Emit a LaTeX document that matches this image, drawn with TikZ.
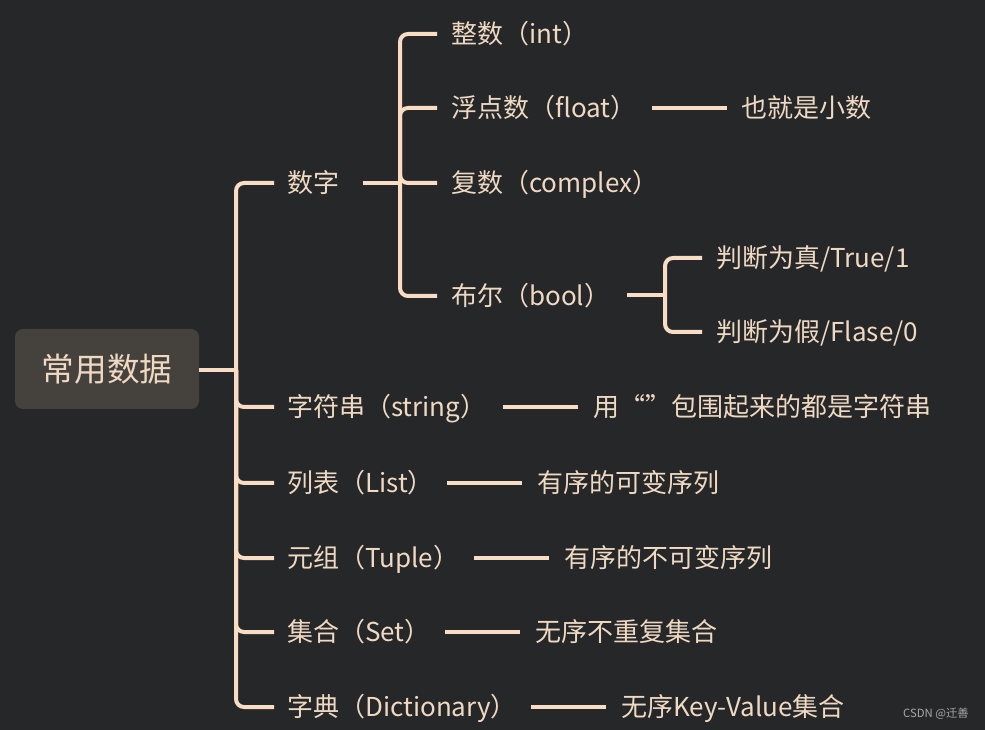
\documentclass[tikz,border=0pt]{standalone}
\usepackage{fontspec}
\setmainfont{Noto Sans CJK SC}
\newfontfamily\wmfont{Noto Sans CJK SC}
\definecolor{bg}{HTML}{262729}
\definecolor{ln}{HTML}{F8DCC4}
\definecolor{tx}{HTML}{EFD9C2}
\definecolor{rootbg}{HTML}{45423D}
\definecolor{wm}{HTML}{A8A8A8}
\begin{document}
\begin{tikzpicture}[x=0.75pt,y=-0.75pt,
  lbl/.style={anchor=west,inner xsep=0pt,inner ysep=0pt,text=tx,font=\fontsize{19.5pt}{21pt}\selectfont,text height=16.8pt,text depth=2.3pt},
  conn/.style={draw=ln,line width=3pt,rounded corners=6pt},
  plain/.style={draw=ln,line width=3pt}]
\fill[bg] (0,0) rectangle (985,730);
\useasboundingbox (0,0) rectangle (985,730);
% root
\node[fill=rootbg,rounded corners=6pt,minimum width=184*0.75pt,minimum height=80*0.75pt,inner sep=0pt,text=tx,font=\fontsize{24.5pt}{26pt}\selectfont,text height=21.5pt,text depth=3pt] (root) at (107,369) {常用数据};
\coordinate (j0) at (236,370);
% level 1
\node[lbl] (num) at (287,183) {数字};
\node[lbl] (str) at (287,407) {字符串（string）};
\node[lbl] (lst) at (287,483) {列表（List）};
\node[lbl] (tup) at (287,558) {元组（Tuple）};
\node[lbl] (set) at (287,632) {集合（Set）};
\node[lbl] (dic) at (287,707) {字典（Dictionary）};
\draw[plain] (root.east |- j0) -- (j0);
\foreach \n in {num,str,lst,tup,set,dic}
  \draw[conn] (j0) |- ([xshift=-13*0.75pt]\n.west);
% level 2
\coordinate (j1) at (400,183);
\node[lbl] (int) at (451,34) {整数（int）};
\node[lbl] (flt) at (451,108) {浮点数（float）};
\node[lbl] (cpx) at (451,183) {复数（complex）};
\node[lbl] (bol) at (451,296) {布尔（bool）};
\draw[plain] ([xshift=362*0.75pt-339*0.75pt]num.east) -- (j1);
\foreach \n in {int,flt,cpx,bol}
  \draw[conn] (j1) |- ([xshift=-14*0.75pt]\n.west);
% level 3
\node[lbl] (xs) at (741,108) {也就是小数};
\draw[plain] ([xshift=-89*0.75pt]xs.west) -- ([xshift=-14*0.75pt]xs.west);
\coordinate (j2) at (665,295);
\node[lbl] (tru) at (716,258) {判断为真/True/1};
\node[lbl] (fal) at (716,332) {判断为假/Flase/0};
\draw[plain] (627,295) -- (j2);
\foreach \n in {tru,fal}
  \draw[conn] (j2) |- ([xshift=-14*0.75pt]\n.west);
% leaf notes
\node[lbl] (strn) at (593,407) {用“”包围起来的都是字符串};
\node[lbl] (lstn) at (537,483) {有序的可变序列};
\node[lbl] (tupn) at (564,558) {有序的不可变序列};
\node[lbl] (setn) at (535,632) {无序不重复集合};
\node[lbl] (dicn) at (621,707) {无序Key-Value集合};
\foreach \n in {strn,lstn,tupn,setn,dicn}
  \draw[plain] ([xshift=-90*0.75pt]\n.west) -- ([xshift=-15*0.75pt]\n.west);
% watermark
\node[anchor=east,text=wm,font=\wmfont\fontsize{8.5pt}{10pt}\selectfont,inner sep=0pt] (wmk) at (969,714) {CSDN @迁善};
\end{tikzpicture}
\end{document}
